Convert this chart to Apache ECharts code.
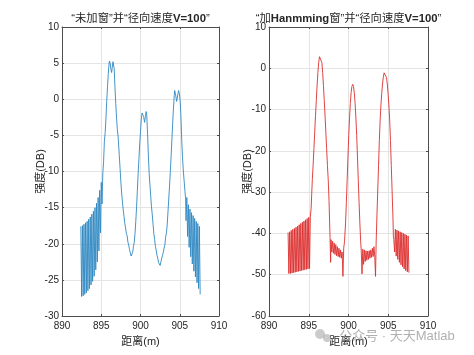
<!DOCTYPE html>
<html>
<head>
<meta charset="utf-8">
<script src="https://cdn.jsdelivr.net/npm/echarts@6/dist/echarts.min.js"></script>
<style>html,body{margin:0;padding:0;background:#fff;}#c{width:474px;height:355px;}</style>
</head>
<body>
<div id="c"></div>
<script>
const titles = ['“未加窗”并“径向速度{b|V=100}”', '“加{b|Hanmming}窗”并“径向速度{b|V=100}”'];
const xName = '距离(m)';
const yName = '强度(DB)';
const watermark = '公众号 · 天天Matlab';

const unwindowed = [
[892.4,-17.6],[892.5,-27.3],[892.6,-17.5],[892.7,-27.2],[892.8,-17.3],[892.9,-27.0],[893.0,-17.1],[893.1,-26.8],[893.2,-16.9],[893.3,-26.5],[893.4,-16.6],[893.5,-26.2],[893.6,-16.3],[893.7,-25.7],[893.8,-15.9],[893.9,-25.2],[894.0,-15.5],[894.1,-24.5],[894.2,-15.0],[894.3,-23.6],[894.4,-14.4],[894.5,-22.5],[894.6,-13.6],[894.7,-21.0],[894.8,-12.6],[894.9,-18.5],[895.0,-11.5],[895.1,-14.5],[895.2,-10.2],
[895.3,-8.6],[895.4,-5.8],[895.5,-4.6],[895.6,-2.6],[895.7,-0.2],[895.8,1.8],[895.9,3.6],[896.0,5.0],[896.05,5.3],[896.15,4.9],[896.25,4.0],[896.32,3.7],[896.4,4.4],[896.5,5.2],[896.56,5.3],[896.65,4.2],[896.75,1.6],[896.85,-0.6],[896.95,-2.6],[897.05,-4.2],[897.15,-5.2],[897.3,-7.8],[897.4,-9.6],[897.5,-11.5],[897.6,-13.0],[897.7,-14.2],[897.8,-15.3],[897.9,-16.2],[898.0,-17.2],[898.1,-17.8],[898.2,-18.6],[898.3,-18.9],[898.4,-19.8],[898.5,-20.2],[898.6,-20.8],[898.7,-21.0],[898.8,-21.7],[898.9,-21.6],[899.0,-21.2],[899.1,-20.4],[899.2,-19.8],[899.3,-18.6],[899.4,-16.9],[899.5,-14.9],[899.6,-12.6],[899.7,-10.3],[899.8,-8.2],[899.9,-6.2],[900.0,-4.5],[900.1,-2.8],[900.2,-1.9],[900.3,-1.7],[900.4,-2.4],[900.52,-3.2],[900.62,-2.4],[900.72,-1.7],[900.8,-2.2],[900.9,-4.8],[901.0,-7.7],[901.1,-10.2],[901.2,-11.8],[901.3,-13.4],[901.4,-14.9],[901.5,-16.0],[901.6,-17.3],[901.7,-18.6],[901.8,-19.4],[901.9,-20.4],[902.0,-20.9],[902.1,-21.6],[902.2,-22.0],[902.3,-22.6],[902.4,-22.8],[902.5,-23.0],[902.6,-22.5],[902.7,-22.3],[902.8,-21.6],[902.9,-21.2],[903.0,-20.6],[903.1,-20.2],[903.2,-19.1],[903.3,-18.5],[903.4,-17.4],[903.5,-15.6],[903.6,-13.8],[903.7,-12.0],[903.8,-10.0],[903.9,-7.9],[904.0,-5.6],[904.1,-3.3],[904.2,-1.2],[904.3,0.5],[904.35,1.2],[904.45,0.8],[904.6,-0.3],[904.75,0.6],[904.85,1.2],[904.95,0.8],[905.05,-0.2],[905.15,-2.4],[905.25,-5.6],[905.35,-8.0],[905.45,-9.8],[905.55,-11.2],[905.65,-12.6],[905.75,-13.8],
[905.8,-16.8],[905.9,-13.6],[906.0,-19.0],[906.1,-14.6],[906.2,-20.5],[906.3,-15.2],[906.4,-21.8],[906.5,-15.7],[906.6,-22.8],[906.7,-16.1],[906.8,-23.8],[906.9,-16.5],[907.0,-24.6],[907.1,-16.9],[907.2,-25.4],[907.3,-17.2],[907.4,-26.2],[907.5,-17.6],[907.6,-27.0]
];

const hamming = [
[892.4,-39.8],[892.5,-49.7],[892.6,-39.6],[892.7,-49.7],[892.8,-39.3],[892.9,-49.6],[893.0,-39.0],[893.1,-49.5],[893.2,-38.8],[893.3,-49.4],[893.4,-38.5],[893.5,-49.3],[893.6,-38.2],[893.7,-49.2],[893.8,-37.9],[893.9,-49.1],[894.0,-37.6],[894.1,-49.0],[894.2,-37.3],[894.3,-48.9],[894.4,-37.0],[894.5,-48.8],[894.6,-36.7],[894.7,-48.7],[894.8,-36.4],[894.9,-48.6],[895.0,-36.1],[895.1,-48.5],[895.2,-35.8],
[895.3,-34],[895.37,-30.5],[895.45,-27],[895.55,-23.5],[895.65,-19.5],[895.75,-15.5],[895.85,-11.5],[895.95,-7.8],[896.05,-4.2],[896.15,-1.0],[896.25,1.4],[896.35,2.8],[896.45,3.2],[896.55,2.8],[896.65,1.4],[896.75,-1.0],[896.85,-4.2],[896.95,-7.8],[897.05,-11.5],[897.15,-15.5],[897.25,-19.5],[897.35,-23.5],[897.45,-27],[897.55,-32],[897.62,-37],[897.68,-41.0],
[897.75,-47.0],[897.8,-41.5],[897.9,-44.5],[898.0,-41.9],[898.1,-44.8],[898.2,-42.3],[898.3,-45.1],[898.4,-42.7],[898.5,-45.4],[898.6,-43.2],[898.7,-45.6],[898.8,-43.6],[898.9,-45.8],[899.0,-44.0],[899.1,-46.0],[899.2,-44.5],[899.3,-50.4],
[899.4,-43.5],[899.5,-42],[899.63,-37.5],[899.73,-32.5],[899.83,-27],[899.93,-21.5],[900.03,-16.3],[900.13,-12],[900.23,-8.5],[900.33,-5.9],[900.43,-4.4],[900.53,-3.9],[900.63,-4.4],[900.73,-5.9],[900.83,-8.5],[900.93,-12],[901.03,-16.3],[901.13,-21.5],[901.23,-27],[901.33,-32.5],[901.43,-37.5],[901.53,-42],[901.6,-44],
[901.7,-49.8],[901.8,-43.8],[901.9,-47.5],[902.0,-44.0],[902.1,-46.8],[902.2,-44.2],[902.3,-46.5],[902.4,-44.3],[902.5,-46.3],[902.6,-44.2],[902.7,-46.0],[902.8,-44.0],[902.9,-45.8],[903.0,-43.6],[903.1,-45.6],[903.2,-43.2],[903.3,-45.5],[903.4,-50.4],
[903.48,-42],[903.58,-35.5],[903.68,-29.5],[903.78,-23.5],[903.88,-17.5],[903.98,-12.5],[904.08,-8.9],[904.18,-6.1],[904.28,-3.8],[904.38,-2.2],[904.48,-1.1],[904.58,-0.8],[904.68,-1.1],[904.78,-2.2],[904.88,-3.8],[904.98,-6.1],[905.08,-8.9],[905.18,-12.5],[905.28,-17.5],[905.38,-23.5],[905.48,-29.5],[905.58,-35.5],[905.65,-40.8],
[905.7,-41.5],[905.8,-44.5],[905.9,-39.0],[906.0,-45.5],[906.1,-39.2],[906.2,-46.3],[906.3,-39.4],[906.4,-47.0],[906.5,-39.6],[906.6,-47.6],[906.7,-39.8],[906.8,-48.1],[906.9,-40.0],[907.0,-48.6],[907.1,-40.2],[907.2,-49.0],[907.3,-40.4],[907.4,-49.3],[907.5,-40.6],[907.6,-49.5]
];

const xRange = [890, 910, 5];
const yRanges = [[-30, 10, 5], [-60, 10, 10]];

const FONT = '"Liberation Sans", Arial, "Noto Sans CJK SC", sans-serif';
const AX = '#4d4d4d';
const GRIDC = '#e4e4e4';
const TXT = '#262626';

const grids = [
  {left: 62, top: 27, width: 157, height: 289},
  {left: 269, top: 27, width: 159, height: 289}
];

const xAxes = [], yAxes = [];
grids.forEach((g, i) => {
  xAxes.push({
    type: 'value', gridIndex: i, min: xRange[0], max: xRange[1], interval: xRange[2],
    name: xName, nameLocation: 'middle', nameGap: 20,
    nameTextStyle: {fontFamily: FONT, fontSize: 11, color: TXT},
    axisLine: {show: true, onZero: false, lineStyle: {color: AX, width: 1}},
    axisTick: {show: true, inside: true, length: 2, lineStyle: {color: AX}},
    axisLabel: {fontFamily: FONT, fontSize: 10, color: TXT, margin: 5},
    splitLine: {show: true, lineStyle: {color: GRIDC, width: 1}}
  });
  xAxes.push({
    type: 'value', gridIndex: i, position: 'top', min: xRange[0], max: xRange[1], interval: xRange[2],
    axisLine: {show: true, onZero: false, lineStyle: {color: AX, width: 1}},
    axisTick: {show: true, inside: true, length: 2, lineStyle: {color: AX}},
    axisLabel: {show: false}, splitLine: {show: false}
  });
  const yr = yRanges[i];
  yAxes.push({
    type: 'value', gridIndex: i, min: yr[0], max: yr[1], interval: yr[2],
    name: yName, nameLocation: 'middle', nameGap: 16, nameMoveOverlap: false,
    nameTextStyle: {fontFamily: FONT, fontSize: 11, color: TXT},
    axisLine: {show: true, onZero: false, lineStyle: {color: AX, width: 1}},
    axisTick: {show: true, inside: true, length: 2, lineStyle: {color: AX}},
    axisLabel: {fontFamily: FONT, fontSize: 10, color: TXT, margin: 3},
    splitLine: {show: true, lineStyle: {color: GRIDC, width: 1}}
  });
  yAxes.push({
    type: 'value', gridIndex: i, position: 'right', min: yr[0], max: yr[1], interval: yr[2],
    axisLine: {show: true, onZero: false, lineStyle: {color: AX, width: 1}},
    axisTick: {show: true, inside: true, length: 2, lineStyle: {color: AX}},
    axisLabel: {show: false}, splitLine: {show: false}
  });
});

const TS = 11.3;
const titleGraphics = titles.map((t, i) => ({
  type: 'text',
  x: grids[i].left + grids[i].width / 2,
  y: 19,
  style: {
    text: t, fill: TXT, font: TS + 'px ' + FONT,
    fontFamily: FONT, fontSize: TS,
    align: 'center', verticalAlign: 'middle', textAlign: 'center', textVerticalAlign: 'middle',
    rich: {b: {fontFamily: FONT, fontSize: TS, fontWeight: 'bold', fill: TXT}}
  }
}));

const chart = echarts.init(document.getElementById('c'), null, {renderer: 'canvas'});
chart.setOption({
  animation: false,
  backgroundColor: '#fff',
  grid: grids,
  xAxis: xAxes,
  yAxis: yAxes,
  series: [
    {type: 'line', xAxisIndex: 0, yAxisIndex: 0, data: unwindowed, showSymbol: false, symbol: 'none',
     lineStyle: {color: '#2f88c2', width: 0.9}, z: 3},
    {type: 'line', xAxisIndex: 2, yAxisIndex: 2, data: hamming, showSymbol: false, symbol: 'none',
     lineStyle: {color: '#dc2f2f', width: 0.9}, z: 3}
  ],
  graphic: titleGraphics.concat([
    {type: 'circle', shape: {cx: 320, cy: 334, r: 5}, style: {fill: 'rgba(160,160,160,0.55)'}, z: 10},
    {type: 'circle', shape: {cx: 327, cy: 338, r: 4}, style: {fill: 'rgba(160,160,160,0.55)'}, z: 10},
    {type: 'text', x: 397, y: 336,
     style: {text: watermark, fill: 'rgba(150,150,150,0.75)', font: '13px ' + FONT, fontSize: 13, fontFamily: FONT,
             align: 'center', verticalAlign: 'middle', textAlign: 'center', textVerticalAlign: 'middle'}, z: 10}
  ])
});
</script>
</body>
</html>
